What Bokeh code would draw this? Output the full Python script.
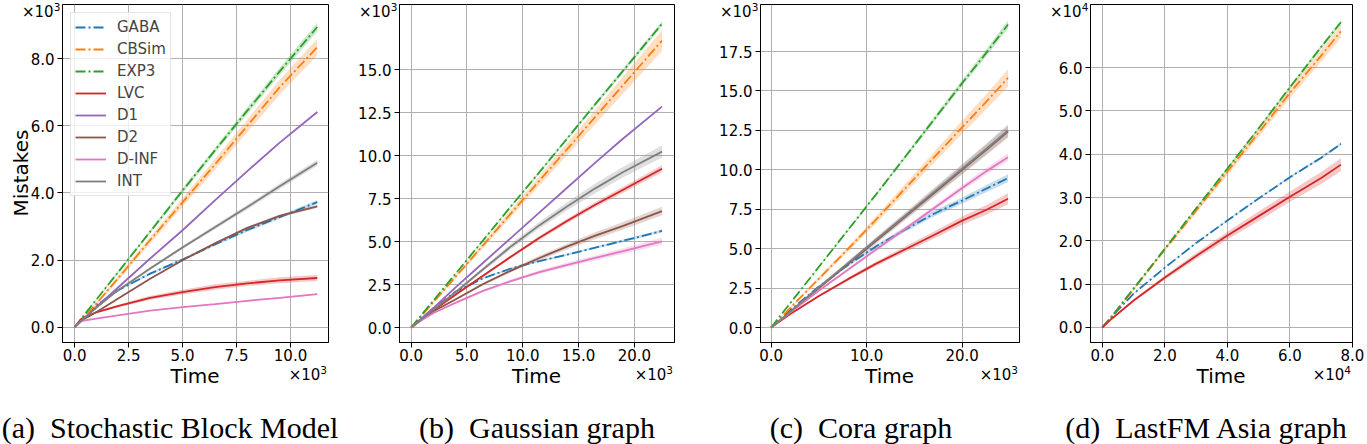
from bokeh.plotting import figure
from bokeh.models import Range1d, FixedTicker, PrintfTickFormatter, Div
from bokeh.layouts import row, column
from bokeh.embed import file_html
from bokeh.resources import INLINE

# ---------------- data (values in units of the axis offset) ----------------
SERIES = ["GABA", "CBSim", "EXP3", "LVC", "D1", "D2", "D-INF", "INT"]
COLORS = {"GABA": "#1f77b4", "CBSim": "#ff7f0e", "EXP3": "#2ca02c", "LVC": "#d62728",
          "D1": "#9467bd", "D2": "#8c564b", "D-INF": "#e377c2", "INT": "#7f7f7f"}
DASHED = ["GABA", "CBSim", "EXP3"]

# (a) Stochastic Block Model  (time x1e3, mistakes x1e3)
SBM_T = [0, 0.3, 1, 2, 3.5, 5, 6.5, 8, 9.5, 11.24]
SBM_MEAN = {
    "GABA":  [0, 0.22, 0.65, 1.10, 1.60, 2.02, 2.47, 2.90, 3.28, 3.73],
    "CBSim": [0, 0.20, 0.70, 1.45, 2.60, 3.72, 4.85, 6.00, 7.15, 8.34],
    "EXP3":  [0, 0.25, 0.82, 1.63, 2.85, 4.07, 5.27, 6.45, 7.62, 8.94],
    "LVC":   [0, 0.25, 0.45, 0.63, 0.88, 1.05, 1.20, 1.31, 1.40, 1.47],
    "D1":    [0, 0.18, 0.60, 1.18, 2.05, 2.89, 3.78, 4.65, 5.50, 6.41],
    "D2":    [0, 0.20, 0.45, 0.85, 1.45, 2.00, 2.50, 2.96, 3.32, 3.60],
    "D-INF": [0, 0.19, 0.26, 0.36, 0.50, 0.60, 0.69, 0.79, 0.88, 0.99],
    "INT":   [0, 0.19, 0.58, 1.10, 1.75, 2.38, 2.98, 3.58, 4.20, 4.90],
}
SBM_SD = {
    "GABA":  [0, 0.01, 0.02, 0.03, 0.03, 0.04, 0.04, 0.05, 0.05, 0.06],
    "CBSim": [0, 0.02, 0.04, 0.07, 0.10, 0.13, 0.16, 0.19, 0.22, 0.25],
    "EXP3":  [0, 0.01, 0.02, 0.04, 0.05, 0.07, 0.08, 0.10, 0.11, 0.13],
    "LVC":   [0, 0.01, 0.03, 0.04, 0.06, 0.07, 0.08, 0.08, 0.09, 0.09],
    "D1":    [0, 0.005, 0.01, 0.01, 0.015, 0.02, 0.02, 0.02, 0.025, 0.03],
    "D2":    [0, 0.01, 0.01, 0.02, 0.02, 0.03, 0.03, 0.04, 0.04, 0.05],
    "D-INF": [0, 0.005, 0.01, 0.01, 0.01, 0.015, 0.015, 0.02, 0.02, 0.02],
    "INT":   [0, 0.01, 0.02, 0.03, 0.04, 0.05, 0.06, 0.07, 0.08, 0.09],
}

# (b) Gaussian graph  (time x1e3, mistakes x1e3)
GAU_T = [0, 0.5, 2, 4, 6.5, 9, 11.5, 14, 16.5, 19, 22.48]
GAU_MEAN = {
    "GABA":  [0, 0.28, 1.12, 2.10, 2.88, 3.45, 3.87, 4.25, 4.65, 5.05, 5.62],
    "CBSim": [0, 0.37, 1.48, 2.97, 4.83, 6.69, 8.55, 10.40, 12.26, 14.12, 16.70],
    "EXP3":  [0, 0.40, 1.58, 3.15, 5.12, 7.10, 9.05, 11.02, 13.00, 14.95, 17.68],
    "LVC":   [0, 0.25, 1.00, 1.92, 3.04, 4.15, 5.22, 6.22, 7.15, 8.02, 9.24],
    "D1":    [0, 0.28, 1.15, 2.35, 3.80, 5.25, 6.70, 8.15, 9.60, 11.00, 12.86],
    "D2":    [0, 0.25, 0.95, 1.65, 2.55, 3.33, 4.05, 4.72, 5.35, 5.92, 6.78],
    "D-INF": [0, 0.25, 0.85, 1.45, 2.15, 2.72, 3.22, 3.65, 4.05, 4.45, 5.02],
    "INT":   [0, 0.26, 1.05, 2.07, 3.42, 4.75, 5.96, 7.06, 8.10, 9.05, 10.24],
}
GAU_SD = {
    "GABA":  [0, 0.01, 0.02, 0.03, 0.04, 0.05, 0.05, 0.06, 0.07, 0.08, 0.09],
    "CBSim": [0, 0.02, 0.06, 0.10, 0.16, 0.22, 0.28, 0.35, 0.42, 0.50, 0.60],
    "EXP3":  [0, 0.01, 0.02, 0.03, 0.05, 0.06, 0.08, 0.09, 0.11, 0.13, 0.15],
    "LVC":   [0, 0.01, 0.03, 0.05, 0.07, 0.09, 0.11, 0.13, 0.15, 0.17, 0.20],
    "D1":    [0, 0.005, 0.01, 0.015, 0.02, 0.025, 0.03, 0.035, 0.04, 0.045, 0.05],
    "D2":    [0, 0.01, 0.03, 0.05, 0.08, 0.10, 0.13, 0.16, 0.19, 0.22, 0.25],
    "D-INF": [0, 0.01, 0.03, 0.05, 0.07, 0.09, 0.11, 0.13, 0.15, 0.17, 0.20],
    "INT":   [0, 0.02, 0.05, 0.08, 0.12, 0.16, 0.20, 0.24, 0.28, 0.31, 0.35],
}

# (c) Cora graph  (time x1e3, mistakes x1e3)
CORA_T = [0, 0.5, 2, 5, 8, 11, 14, 17, 20, 22.5, 24.8]
CORA_MEAN = {
    "GABA":  [0, 0.30, 1.10, 2.60, 3.95, 5.15, 6.20, 7.20, 8.05, 8.80, 9.47],
    "CBSim": [0, 0.30, 1.25, 3.10, 4.95, 6.85, 8.80, 10.75, 12.70, 14.30, 15.83],
    "EXP3":  [0, 0.40, 1.55, 3.85, 6.15, 8.45, 10.80, 13.15, 15.50, 17.40, 19.21],
    "LVC":   [0, 0.22, 0.85, 2.00, 3.05, 4.05, 4.95, 5.85, 6.78, 7.45, 8.16],
    "D2":    [0, 0.24, 0.98, 2.50, 4.00, 5.50, 7.00, 8.50, 10.00, 11.25, 12.42],
    "D-INF": [0, 0.25, 0.95, 2.35, 3.65, 4.95, 6.25, 7.55, 8.85, 9.90, 10.80],
    "INT":   [0, 0.25, 1.00, 2.55, 4.07, 5.58, 7.07, 8.57, 10.07, 11.32, 12.49],
}
CORA_SD = {
    "GABA":  [0, 0.01, 0.03, 0.06, 0.09, 0.12, 0.15, 0.18, 0.20, 0.22, 0.25],
    "CBSim": [0, 0.02, 0.05, 0.10, 0.16, 0.22, 0.28, 0.35, 0.42, 0.48, 0.55],
    "EXP3":  [0, 0.01, 0.02, 0.05, 0.08, 0.10, 0.13, 0.16, 0.19, 0.22, 0.25],
    "LVC":   [0, 0.01, 0.03, 0.07, 0.10, 0.14, 0.18, 0.22, 0.26, 0.30, 0.35],
    "D2":    [0, 0.01, 0.04, 0.08, 0.12, 0.17, 0.21, 0.26, 0.30, 0.34, 0.38],
    "D-INF": [0, 0.01, 0.02, 0.05, 0.08, 0.10, 0.13, 0.16, 0.19, 0.22, 0.25],
    "INT":   [0, 0.01, 0.04, 0.08, 0.12, 0.17, 0.21, 0.26, 0.30, 0.34, 0.38],
}

# (d) LastFM Asia graph  (time x1e4, mistakes x1e4)
LFM_T = [0, 0.3, 1, 2, 3, 4, 5, 6, 7, 7.63]
LFM_MEAN = {
    "GABA":  [0, 0.25, 0.78, 1.38, 1.95, 2.47, 2.98, 3.47, 3.92, 4.24],
    "CBSim": [0, 0.25, 0.88, 1.80, 2.70, 3.60, 4.50, 5.42, 6.28, 6.84],
    "EXP3":  [0, 0.25, 0.90, 1.82, 2.75, 3.67, 4.60, 5.55, 6.48, 7.05],
    "LVC":   [0, 0.20, 0.62, 1.15, 1.65, 2.12, 2.57, 3.02, 3.45, 3.76],
}
LFM_SD = {
    "GABA":  [0, 0.005, 0.01, 0.01, 0.015, 0.02, 0.02, 0.025, 0.03, 0.03],
    "CBSim": [0, 0.01, 0.02, 0.04, 0.06, 0.08, 0.10, 0.12, 0.14, 0.15],
    "EXP3":  [0, 0.005, 0.01, 0.015, 0.02, 0.03, 0.03, 0.04, 0.04, 0.05],
    "LVC":   [0, 0.01, 0.03, 0.05, 0.07, 0.09, 0.11, 0.12, 0.14, 0.15],
}

CAPTIONS = ["(a)&nbsp; Stochastic Block Model", "(b)&nbsp; Gaussian graph",
            "(c)&nbsp; Cora graph", "(d)&nbsp; LastFM Asia graph"]
EXPONENTS = ["3", "3", "3", "4"]
X_LABEL = "Time"
Y_LABEL = "Mistakes"
X_TICKS = [[0, 2.5, 5, 7.5, 10], [0, 5, 10, 15, 20], [0, 10, 20], [0, 2, 4, 6, 8]]
Y_TICKS = [[0, 2, 4, 6, 8], [0, 2.5, 5, 7.5, 10, 12.5, 15],
           [0, 2.5, 5, 7.5, 10, 12.5, 15, 17.5], [0, 1, 2, 3, 4, 5, 6]]

# ---------------- layout / style ----------------
PAGE_X, PAGE_Y = 0, 0          # observed page offset of the layout
MB_TOP = 4
FH = 338
MB_BOT = 27
FIG_H = MB_TOP + FH + MB_BOT
DIV_H = 444 - FIG_H
FONT = "DejaVu Sans"

panels = [
    dict(t=SBM_T, mean=SBM_MEAN, sd=SBM_SD, xr=(-0.56, 11.76), yr=(-0.45, 9.61),
         w=340, mbl=62, mbr=12, capc=170, legend=True),
    dict(t=GAU_T, mean=GAU_MEAN, sd=GAU_SD, xr=(-1.05, 23.6), yr=(-0.87, 18.8),
         w=350, mbl=59, mbr=16, capc=537, legend=False),
    dict(t=CORA_T, mean=CORA_MEAN, sd=CORA_SD, xr=(-1.12, 26.0), yr=(-0.95, 20.48),
         w=340, mbl=70, mbr=11, capc=861, legend=False),
    dict(t=LFM_T, mean=LFM_MEAN, sd=LFM_SD, xr=(-0.38, 8.0), yr=(-0.35, 7.46),
         w=337, mbl=60, mbr=15, capc=1206, legend=False),
]
TOTAL_W = sum(pd_["w"] for pd_ in panels)
DIV_Y0 = PAGE_Y + FIG_H


def offset_text(exp):
    return ("&times;10<span style=\"font-size:10.5px;position:relative;top:-6px;\">"
            f"{exp}</span>")


def span(text, x, baseline, size, font=FONT, anchor="left"):
    # x, baseline in page pixels; line-height 1 -> baseline = top + size/2 + (asc-desc)/2
    if font == FONT:
        base_off = size / 2 + size * (0.928 - 0.236) / 2
    else:
        base_off = size / 2 + size * (0.891 - 0.216) / 2
    top = baseline - base_off - DIV_Y0
    left = x - PAGE_X
    tx = {"left": "0", "center": "-50%", "right": "-100%"}[anchor]
    return (f'<span style="position:absolute;left:{left:.1f}px;top:{top:.1f}px;'
            f'font-family:\'{font}\';font-size:{size}px;line-height:1;white-space:nowrap;'
            f'color:black;transform:translateX({tx});">{text}</span>')


figs = []
spans = []
x0 = PAGE_X
for i, pd_ in enumerate(panels):
    fw = pd_["w"] - pd_["mbl"] - pd_["mbr"]
    fl = x0 + pd_["mbl"]
    fr = fl + fw
    ft = PAGE_Y + MB_TOP
    fb = ft + FH
    p = figure(width=pd_["w"], height=FIG_H, output_backend="svg", toolbar_location=None,
               title=None, x_range=Range1d(*pd_["xr"]), y_range=Range1d(*pd_["yr"]),
               min_border_left=pd_["mbl"], min_border_right=pd_["mbr"],
               min_border_top=MB_TOP, min_border_bottom=MB_BOT)
    p.outline_line_color = "black"
    p.outline_line_width = 1
    p.outline_line_alpha = 1

    for ax, ticks in ((p.xaxis[0], X_TICKS[i]), (p.yaxis[0], Y_TICKS[i])):
        ax.ticker = FixedTicker(ticks=ticks)
        ax.formatter = PrintfTickFormatter(format="%.1f")
        ax.major_label_text_font = FONT
        ax.major_label_text_font_size = "15px"
        ax.major_label_text_color = "black"
        ax.major_tick_in = 0
        ax.major_tick_out = 5
        ax.minor_tick_in = 0
        ax.minor_tick_out = 0
        ax.major_tick_line_color = "black"
        ax.axis_line_color = "black"
    p.xaxis[0].major_label_standoff = 1
    p.yaxis[0].major_label_standoff = 3

    for g in (p.xgrid[0], p.ygrid[0]):
        g.grid_line_color = "#b0b0b0"
        g.grid_line_width = 1

    t = pd_["t"]
    for name in SERIES:
        if name not in pd_["mean"]:
            continue
        m = pd_["mean"][name]
        s = pd_["sd"][name]
        lo = [a - b for a, b in zip(m, s)]
        hi = [a + b for a, b in zip(m, s)]
        col = COLORS[name]
        p.varea(x=t, y1=lo, y2=hi, fill_color=col, fill_alpha=0.25)
        kw = dict(line_color=col, line_width=1.8)
        if name in DASHED:
            kw["line_dash"] = "10 3 2 3"
        if pd_["legend"]:
            kw["legend_label"] = name
        p.line(t, m, **kw)

    if pd_["legend"]:
        lg = p.legend[0]
        lg.location = "top_left"
        lg.margin = 8
        lg.padding = 4
        lg.spacing = 2
        lg.glyph_height = 20
        lg.glyph_width = 31
        lg.label_height = 20
        lg.label_standoff = 11
        lg.label_text_font = FONT
        lg.label_text_font_size = "15px"
        lg.border_line_color = "#cccccc"
        lg.border_line_width = 1
        lg.background_fill_color = "white"
        lg.background_fill_alpha = 0.8

    # texts around the frame
    spans.append(span(offset_text(EXPONENTS[i]), fl - 40, ft + 13.5, 15))
    spans.append(span(offset_text(EXPONENTS[i]), fr - 1, fb + 39, 15, anchor="right"))
    spans.append(span(X_LABEL, (fl + fr) / 2, fb + 41, 20, anchor="center"))
    spans.append(span(CAPTIONS[i], pd_["capc"], 438, 30, font="Liberation Serif",
                      anchor="center"))
    if i == 0:
        cy = (ft + fb) / 2 - DIV_Y0
        cx = 21 - PAGE_X
        spans.append(f'<span style="position:absolute;left:{cx}px;top:{cy}px;'
                     f'font-family:\'{FONT}\';font-size:20px;line-height:1;white-space:nowrap;'
                     f'color:black;transform:translate(-50%,-50%) rotate(-90deg);">{Y_LABEL}</span>')

    figs.append(p)
    x0 += pd_["w"]

html = (f'<div style="position:relative;width:{TOTAL_W}px;height:{DIV_H}px;overflow:visible;">'
        + "".join(spans) + "</div>")
texts = Div(text=html, width=TOTAL_W, height=DIV_H, margin=0,
            styles={"overflow": "visible", "position": "relative", "z-index": "5"})

layout = column(row(*figs, spacing=0), texts, spacing=0)
open("out.html", "w").write(file_html(layout, INLINE))
